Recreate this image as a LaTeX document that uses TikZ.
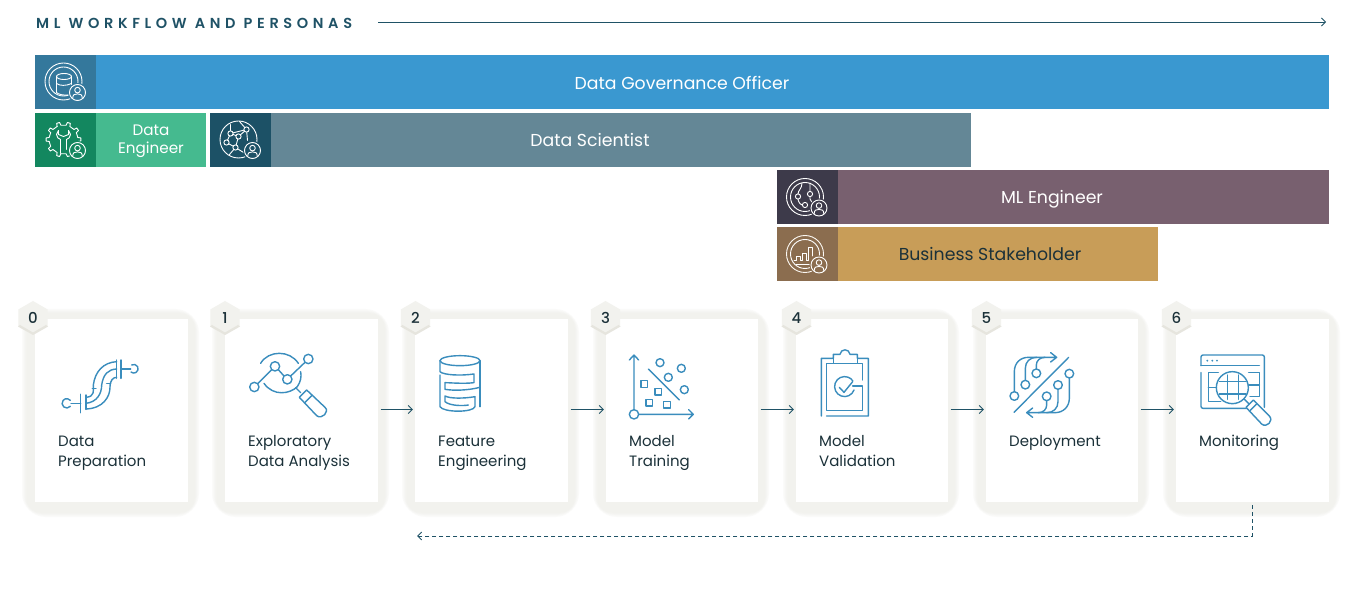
\documentclass[tikz,border=0pt]{standalone}
\usepackage{fontspec}
\setmainfont{Poppins}
\newfontfamily\medfont{Poppins Medium}
\newfontfamily\semifont{Poppins SemiBold}
\usetikzlibrary{arrows.meta,shapes.geometric}
\definecolor{ink}{HTML}{1B3139}
\definecolor{teal}{HTML}{1F5266}
\definecolor{iconblue}{HTML}{3A8DBD}
\definecolor{hexl}{HTML}{F2F2EE}
\definecolor{hexd}{HTML}{E6E5DE}
\definecolor{govm}{HTML}{3A98D0}\definecolor{govi}{HTML}{34789C}
\definecolor{dem}{HTML}{45BA8F}\definecolor{dei}{HTML}{13875F}
\definecolor{dsm}{HTML}{648796}\definecolor{dsi}{HTML}{1C5166}
\definecolor{mlm}{HTML}{78606F}\definecolor{mli}{HTML}{3D3A4A}
\definecolor{bsm}{HTML}{C89D58}\definecolor{bsi}{HTML}{8B6D4F}
\tikzset{
 barmain/.style={rectangle,inner sep=0pt,minimum height=54pt},
 bartext/.style={anchor=center,inner sep=0pt,text=white,text height=13pt,text depth=4pt,align=center,font=\fontsize{17.3}{21}\selectfont},
 baricon/.style={rectangle,inner sep=0pt,minimum height=54pt,minimum width=61.5pt},
 pl/.style={draw=white,line width=.9pt,fill=none,line cap=round,line join=round},
 ic/.style={draw=iconblue,line width=1.4pt,line cap=round,line join=round,fill=none},
 zo/.style={x=.33333pt,y=-.33333pt},
 card/.style={rectangle,fill=white,inner sep=0pt,minimum height=183pt},
 cardlabel/.style={anchor=north west,inner sep=0pt,align=left,text=ink,font=\fontsize{15}{20}\selectfont},
 stepnum/.style={regular polygon,regular polygon sides=6,shape border rotate=30,fill=hexl,inner sep=0pt,minimum size=34pt,text=ink,font=\fontsize{15}{15}\medfont},
 flow/.style={draw=teal,line width=.9pt,-{Straight Barb[length=4pt,width=8pt]}},
}
\newcommand{\badge}[1]{%
 \fill[#1] (14,11) circle[radius=9.6];
 \draw[pl] (14,11) circle[radius=8];
 \draw[pl] (14,8.6) circle[radius=2.8];
 \draw[pl] (9.2,16.6) .. controls (9.4,13) and (11,12.4) .. (14,12.4) .. controls (17,12.4) and (18.6,13) .. (18.8,16.6);
}
\begin{document}
\begin{tikzpicture}[x=1pt,y=-1pt]
\useasboundingbox (0,0) rectangle (1358,609);
\fill[white] (0,0) rectangle (1358,609);
% title
\node[anchor=west,inner sep=0pt,text=teal,font=\fontsize{14.5}{14.5}\semifont\addfontfeature{LetterSpace=32}] (title) at (36,23) {ML WORKFLOW AND PERSONAS};
\coordinate (ts) at (378,22); \coordinate (te) at (1326,22);
\draw[flow,line width=.8pt] (ts) -- (te);
% persona bars
\node[barmain,fill=govm,minimum width=1233pt] (gov) at (712.5,82) {};
\node[bartext] (govt) at (682,85) {Data Governance Officer};
\node[baricon,fill=govi] (govic) at (65.5,82) {};
\node[barmain,fill=dem,minimum width=110pt] (de) at (151,140) {};
\node[anchor=center,inner sep=0pt,text=white,align=center,font=\fontsize{15.2}{18}\selectfont] (det) at (151,141) {Data\\Engineer};
\node[baricon,fill=dei] (deic) at (65.5,140) {};
\node[barmain,fill=dsm,minimum width=700pt] (ds) at (621,140) {};
\node[bartext] (dst) at (590,142) {Data Scientist};
\node[baricon,fill=dsi] (dsic) at (240.5,140) {};
\node[barmain,fill=mlm,minimum width=491pt] (ml) at (1083.5,197) {};
\node[bartext] (mlt) at (1052,199) {ML Engineer};
\node[baricon,fill=mli] (mlic) at (807.5,197) {};
\node[barmain,fill=bsm,minimum width=320pt] (bs) at (998,254) {};
\node[bartext,text=ink] (bst) at (990,256) {Business Stakeholder};
\node[baricon,fill=bsi] (bsic) at (807.5,254) {};
% persona icons
\begin{scope}[shift={(63.5,81.5)}]
 \draw[pl] (0,0) circle[radius=18.5]; \draw[pl] (0,0) circle[radius=14.5];
 \draw[pl] (0.5,-5) ellipse[x radius=7.5,y radius=3];
 \draw[pl] (-7,-5) -- (-7,11) .. controls (-5,13) and (0,14) .. (5,13.5);
 \draw[pl] (8,-5) -- (8,3);
 \draw[pl] (-7,2) .. controls (-4,4.5) and (3,4.5) .. (8,2);
 \badge{govi}
\end{scope}
\begin{scope}[shift={(63.5,139.5)}]
 \foreach \a in {0,36,...,324}{
  \draw[pl] (\a-8:14.5) -- (\a-5:17.5) arc[start angle=\a-5,end angle=\a+5,radius=17.5] -- (\a+8:14.5) arc[start angle=\a+8,end angle=\a+28,radius=14.5];
 }
 \draw[pl] (-5,-9) -- (-7,-5) .. controls (-7,-2) and (-5,-1) .. (-3,0) -- (-3,14);
 \draw[pl] (5,-9) -- (7,-5) .. controls (7,-2) and (5,-1) .. (3,0) -- (3,10);
 \draw[pl] (-5,-9) -- (-5,-5) -- (0,-3) -- (5,-5) -- (5,-9);
 \badge{dei}
\end{scope}
\begin{scope}[shift={(238.5,139.5)}]
 \draw[pl] (0,0) circle[radius=18.5];
 \coordinate (p1) at (-12,3); \coordinate (p2) at (-8,-6); \coordinate (p3) at (8,-10); \coordinate (p4) at (-3,8); \coordinate (p5) at (0,-3);
 \draw[pl] (p1) -- (p2) -- (p3) -- (p5) -- (p4) -- (p1) (p2) -- (p5) (p3) -- (9,1) (p4) -- (5,13) (p4) -- (-9,15) (p2) -- (-8,-15) (p3) -- (1,-18);
 \foreach \p in {p1,p2,p3,p4,p5}{\fill[dsi] (\p) circle[radius=2.6]; \draw[pl] (\p) circle[radius=2.6];}
 \badge{dsi}
\end{scope}
\begin{scope}[shift={(805,197)}]
 \draw[pl] (0,0) circle[radius=18.5]; \draw[pl] (0,0) circle[radius=14.5];
 \draw[pl] (-7,-.5) circle[radius=2.6]; \draw[pl] (5,-3) circle[radius=2.6]; \draw[pl] (0,8) circle[radius=2.6];
 \draw[pl] (-7,-3) .. controls (-7,-7) and (-3,-8) .. (-3,-14) (5,-5.6) -- (5,-14) (-7,2) .. controls (-7,5) and (-4,8) .. (-2.6,8) (5,-.4) -- (5,2) .. controls (5,4) and (8,5) .. (8,7);
 \badge{mli}
\end{scope}
\begin{scope}[shift={(805,254)}]
 \draw[pl,draw=white!92!bsm] (0,0) circle[radius=18.5]; \draw[pl] (0,0) circle[radius=14.5];
 \draw[pl] (-9,10) -- (5,10);
 \draw[pl] (-11,6) -- (-9,6) -- (-9,2) -- (-5,2) -- (-5,6) -- (-3,6) -- (-3,-1) -- (1,-1) -- (1,6) -- (3,6) -- (3,-7) -- (7,-7) -- (7,2);
 \badge{bsi}
\end{scope}
% cards
\foreach \i/\cx/\w/\hx/\lab in {0/111.5/153/33/{Data\\Preparation},1/301.5/153/225/{Exploratory\\Data Analysis},2/491.5/153/415.5/{Feature\\Engineering},3/682/152/605.5/{Model\\Training},4/872/152/796.5/{Model\\Validation},5/1062/152/986.5/{Deployment},6/1252.5/153/1176.5/{Monitoring}}{
 \foreach \d/\m in {6/30,5/50,4/68,3/82,2/92,1/100}{
  \fill[hexl!\m!white,rounded corners=12pt+2pt*\d] (\cx-\w/2-7-\d,315-\d) rectangle (\cx+\w/2+5+\d,511+\d);
 }
 \node[card,minimum width=\w pt] (c\i) at (\cx,410.5) {};
 \node[stepnum] (h\i) at (\hx,318) {\i};
 \fill[hexd] (\hx-15,326.5) -- (\hx,335) -- (\hx+15,326.5) -- (\hx+13,325) -- (\hx,332.5) -- (\hx-13,325) -- cycle;
 \node[cardlabel] (l\i) at (\cx-\w/2+23,432.5) {\strut\lab};
}
% flow arrows
\foreach \a/\b in {c1/c2,c2/c3,c3/c4,c4/c5,c5/c6}{
 \draw[flow,shorten <=2.5pt,shorten >=2pt] ([yshift=1pt]\a.east) -- ([yshift=1pt]\b.west);
}
\coordinate (fb) at (417,536);
\draw[draw=teal,line width=.9pt,dash pattern=on 4pt off 3pt,-{Straight Barb[length=4pt,width=8pt]},shorten <=3pt] (c6.south) -- (c6.south |- fb) -- (fb);
% icon 0 pipe
\begin{scope}[shift={(10,300)},zo]
 \draw[ic] (181,319) arc[start angle=40,end angle=320,radius=14] ;
 \draw[ic] (183,310) -- (212,310) (212,283) -- (212,338) (228,285) -- (228,328);
 \draw[ic] (228,292) .. controls (255,290) and (250,272) .. (250,255) .. controls (255,215) and (280,187) .. (320,185);
 \draw[ic] (228,327) .. controls (280,325) and (300,290) .. (300,262) .. controls (300,240) and (310,232) .. (320,232);
 \draw[ic] (228,310) .. controls (262,306) and (275,280) .. (275,255) .. controls (280,222) and (295,208) .. (320,207);
 \draw[ic] (320,180) -- (320,235) (333,180) -- (333,235) (335,207) -- (362,207);
 \draw[ic] (365,195) arc[start angle=-120,end angle=130,radius=13];
 \draw[ic] (247,265) -- (258,265) (290,250) -- (302,250);
\end{scope}
% icon 1 magnifier
\begin{scope}[shift={(10,300)},zo]
 \draw[ic] (752,190) .. controls (775,150) and (840,150) .. (865,190);
 \draw[ic] (872,215) .. controls (875,230) and (872,245) .. (862,260);
 \draw[ic] (762,250) .. controls (790,290) and (840,282) .. (862,260);
 \draw[ic] (743,251) -- (785,209) (805,209) -- (822,228) (842,228) -- (885,187);
 \foreach \p in {(733,261),(795,199),(832,238),(895,177)}{\fill[white] \p circle[radius=14]; \draw[ic] \p circle[radius=14];}
 \draw[ic] (857,263) -- (872,278);
 \draw[ic] (890,270) -- (868,292) -- (920,347) .. controls (935,360) and (960,335) .. (945,322) -- cycle;
 \draw[ic] (907,285) -- (885,307);
\end{scope}
% icon 2 database
\begin{scope}[shift={(400,300)},zo]
 \draw[ic] (180,182) ellipse[x radius=60,y radius=15];
 \draw[ic] (120,182) -- (120,215) .. controls (130,225) and (180,228) .. (222,222) -- (222,248) .. controls (190,252) and (150,248) .. (135,248) -- (135,268) .. controls (160,272) and (200,272) .. (240,262);
 \draw[ic] (240,182) -- (240,320);
 \draw[ic] (120,225) -- (120,320) .. controls (130,338) and (220,338) .. (225,320) -- (225,290) .. controls (190,296) and (150,296) .. (135,288) -- (135,305) .. controls (150,318) and (190,318) .. (205,315);
\end{scope}
% icon 3 chart
\begin{scope}[shift={(400,300)},zo]
 \draw[ic] (702,343) circle[radius=14];
 \draw[ic] (702,329) -- (702,165) (688,180) -- (702,165) -- (716,180);
 \draw[ic] (716,343) -- (880,343) (866,329) -- (880,343) -- (866,357);
 \foreach \p in {(733,252),(775,275),(748,308),(801,314)}{\draw[ic] \p ++(-10,-10) rectangle ++(20,20);}
 \foreach \p in {(780,188),(844,205),(805,232),(853,269)}{\draw[ic] \p circle[radius=12];}
 \draw[ic] (745,207) -- (838,300);
\end{scope}
% icon 4 clipboard
\begin{scope}[shift={(780,300)},zo]
 \draw[ic] (124,348) -- (124,175) -- (160,175) -- (160,163) -- (180,163) .. controls (182,145) and (208,145) .. (210,163) -- (232,163) -- (232,175) -- (265,175) -- (265,348) -- (140,348);
 \draw[ic] (160,190) -- (140,190) -- (140,332) -- (248,332) -- (248,258) -- (218,258);
 \draw[ic] (160,175) -- (160,190) -- (232,190) -- (232,175) (232,190) -- (248,190) -- (248,240);
 \draw[ic] (222,270) arc[start angle=20,end angle=325,radius=30];
 \draw[ic] (178,262) -- (192,277) -- (218,245);
\end{scope}
% icon 5 deployment
\begin{scope}[shift={(780,300)},zo]
 \draw[ic] (702,337) -- (866,172);
 \draw[ic] (703,275) -- (703,215) .. controls (703,190) and (720,172) .. (745,172) -- (828,172) (812,158) -- (830,172) -- (812,186);
 \draw[ic] (736,241) -- (736,205) .. controls (736,185) and (750,172) .. (770,172);
 \draw[ic] (769,207) -- (769,195) .. controls (769,182) and (780,172) .. (795,172);
 \draw[ic] (868,234) -- (868,295) .. controls (868,320) and (850,338) .. (825,338) -- (742,338) (758,324) -- (740,338) -- (758,352);
 \draw[ic] (834,268) -- (834,305) .. controls (834,325) and (820,338) .. (800,338);
 \draw[ic] (800,302) -- (800,315) .. controls (800,328) and (790,338) .. (775,338);
 \foreach \p in {(703,288),(736,254),(769,220),(868,221),(834,255),(800,289)}{\draw[ic] \p circle[radius=13];}
\end{scope}
% icon 6 monitoring
\begin{scope}[shift={(1150,300)},zo]
 \draw[ic,rounded corners=2pt] (153,197) -- (153,165) -- (343,165) -- (343,322);
 \draw[ic] (153,197) -- (328,197);
 \draw[ic,rounded corners=2pt] (153,218) -- (153,325) -- (290,325);
 \foreach \p in {(172,182),(187,182),(201,182)}{\fill[iconblue] \p circle[radius=3.2];}
 \draw[ic] (247,263) circle[radius=48];
 \draw[ic] (232,225) -- (232,298) (265,225) -- (265,298) (208,245) -- (288,245) (208,282) -- (288,282);
 \draw[ic] (205,218) -- (175,218) -- (175,305) -- (212,305) (175,262) -- (199,262);
 \draw[ic] (296,218) -- (328,218) -- (328,290) -- (300,290) (328,255) -- (296,255);
 \draw[ic] (282,297) -- (295,310);
 \draw[ic] (310,300) -- (288,322) -- (335,372) .. controls (350,385) and (372,362) .. (358,348) -- cycle;
 \draw[ic] (320,312) -- (300,332);
\end{scope}
\end{tikzpicture}
\end{document}
